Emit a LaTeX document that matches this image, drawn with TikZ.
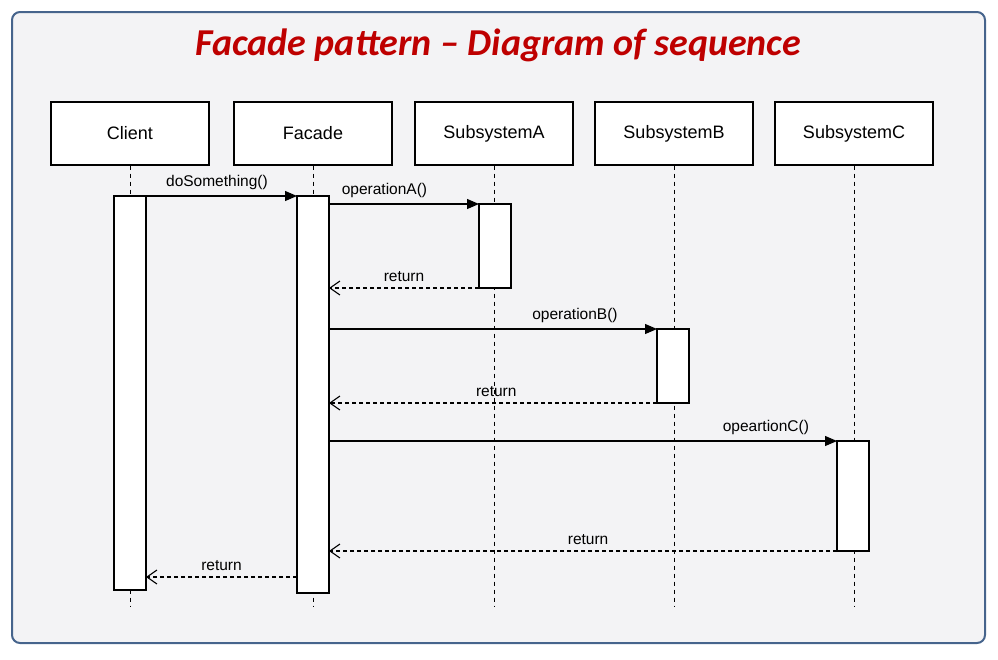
\documentclass[tikz,border=0pt]{standalone}
\usepackage{fontspec}
\setmainfont{Liberation Sans}
\newfontfamily\titlefont{Carlito}
\usetikzlibrary{arrows.meta}
\definecolor{frame}{RGB}{70,100,140}
\definecolor{bg}{RGB}{243,243,245}
\definecolor{ttl}{RGB}{190,0,0}
\begin{document}
\begin{tikzpicture}[x=1pt,y=-1pt,
  obj/.style={draw,fill=white,line width=1.1pt,minimum width=158pt,minimum height=63pt,inner sep=0,font=\fontsize{18}{20}\selectfont},
  act/.style={draw,fill=white,line width=1.1pt},
  life/.style={line width=1pt,dash pattern=on 4pt off 4pt},
  call/.style={line width=1.1pt,-{Triangle[length=12pt,width=10pt]}},
  ret/.style={line width=1.1pt,dash pattern=on 4pt off 3pt,-{Straight Barb[length=10pt,width=14pt]}},
  lbl/.style={font=\fontsize{15.5}{17}\selectfont,inner sep=1pt,above=5pt}]
\useasboundingbox (0,0) rectangle (998,659);
\draw[frame,fill=bg,line width=2pt,rounded corners=8pt] (12,12) rectangle (985,643);
\node[ttl,font=\titlefont\bfseries\itshape\fontsize{38}{42}\selectfont] (title) at (498,45) {Facade pattern – Diagram of sequence};
\foreach \n/\t/\x in {cl/Client/130,fa/Facade/313,sa/SubsystemA/494,sb/SubsystemB/674,sc/SubsystemC/854}{
  \node[obj] (\n) at (\x,133.5) {\t};
  \coordinate (\n e) at (\x,607);
  \draw[life] (\n.south) -- (\n e);
}
\draw[act] (114,196) rectangle (146,590);
\draw[act] (297,196) rectangle (329,593);
\draw[act] (479,204) rectangle (511,288);
\draw[act] (657,329) rectangle (689,403);
\draw[act] (837,441) rectangle (869,551);
\coordinate (c1) at (146,196); \coordinate (f1) at (297,196);
\draw[call] (c1) -- (f1) node[lbl,pos=0.47] {doSomething()};
\coordinate (f2) at (329,204); \coordinate (a1) at (479,204);
\draw[call] (f2) -- (a1) node[lbl,pos=0.37] {operationA()};
\coordinate (a2) at (479,288); \coordinate (f3) at (329,288);
\draw[ret] (a2) -- (f3) node[lbl,pos=0.5] {return};
\coordinate (f4) at (329,329); \coordinate (b1) at (657,329);
\draw[call] (f4) -- (b1) node[lbl,pos=0.75] {operationB()};
\coordinate (b2) at (657,403); \coordinate (f5) at (329,403);
\draw[ret] (b2) -- (f5) node[lbl,pos=0.49] {return};
\coordinate (f6) at (329,441); \coordinate (cc1) at (837,441);
\draw[call] (f6) -- (cc1) node[lbl,pos=0.86] {opeartionC()};
\coordinate (cc2) at (837,551); \coordinate (f7) at (329,551);
\draw[ret] (cc2) -- (f7) node[lbl,pos=0.49] {return};
\coordinate (f8) at (297,577); \coordinate (c2) at (146,577);
\draw[ret] (f8) -- (c2) node[lbl,midway] {return};
\end{tikzpicture}
\end{document}
